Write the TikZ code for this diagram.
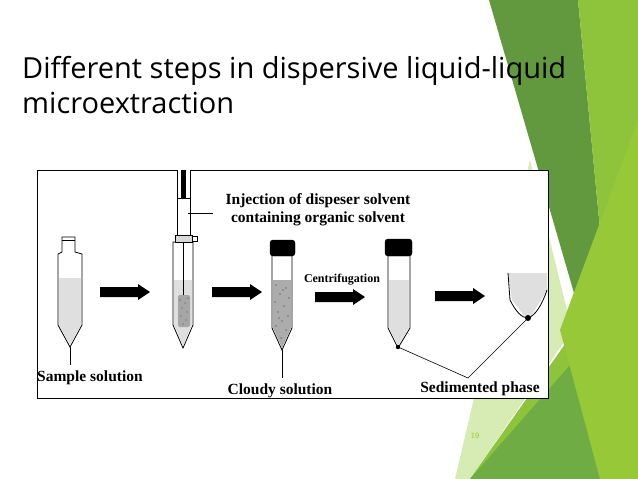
\documentclass[tikz,border=0pt]{standalone}
\usepackage{fontspec}
\setmainfont{Liberation Serif}
\newfontfamily\titlefont{Open Sans}
\definecolor{gdark}{RGB}{98,152,62}
\definecolor{glight}{RGB}{142,196,60}
\definecolor{gmid}{RGB}{112,172,68}
\definecolor{gpale}{RGB}{215,235,180}
\definecolor{gbright}{RGB}{150,200,55}
\begin{document}
\begin{tikzpicture}[x=1pt,y=-1pt,
  lbl/.style={font=\bfseries\fontsize{15.5}{17}\selectfont,inner sep=0pt},
  tube/.style={draw=black,line width=0.8pt,fill=white},
  liq/.style={fill=gray!25,draw=none},
  blk/.style={fill=black,draw=black},
  barrow/.style={fill=black,draw=none}]
\useasboundingbox (0,0) rectangle (638,479);
\fill[white] (0,0) rectangle (638,479);
% background decoration
\fill[gpale] (530,160) -- (572,330) -- (470,479) -- (455,479) -- cycle;
\fill[gdark] (489,0) -- (578,0) -- (602,250) -- (592,355) -- cycle;
\fill[glight] (578,0) -- (638,0) -- (638,479) -- (470,479) -- (575,330) -- (602,250) -- cycle;
\fill[gmid] (470,479) -- (592,340) -- (615,479) -- cycle;
\fill[gbright] (560,330) -- (638,120) -- (638,479) -- (600,479) -- cycle;
\node[anchor=base west,font=\titlefont\fontsize{29}{32}\selectfont,inner sep=0pt] (t1) at (22,78) {Different steps in dispersive liquid-liquid};
\node[anchor=base west,font=\titlefont\fontsize{29}{32}\selectfont,inner sep=0pt] (t2) at (22,113) {microextraction};
\node[font=\sffamily\fontsize{8}{9}\selectfont,text=gbright,inner sep=0pt] (pg) at (475,436) {19};
% image frame
\draw[fill=white,line width=0.8pt] (37,170) rectangle (548,398);
% tube 1
\draw[tube] (62,237) -- (75,237) -- (75,252) -- (82,254) -- (82,325) -- (70,347) -- (58,325) -- (58,254) -- (62,252) -- cycle;
\fill[liq] (59,278) -- (81,278) -- (81,325) -- (70,345) -- (59,325) -- cycle;
\draw[line width=0.6pt] (62,240) -- (75,240);
\coordinate (tip1) at (70,347);
\coordinate (l1) at (70,365);
\draw[line width=0.6pt] (tip1) -- (l1);
\node[lbl,anchor=base west] (s1) at (37,381) {Sample solution};
% arrows
\foreach \xa/\ya in {100/292,212/292,315/297,435/296}{
  \fill[barrow] (\xa,\ya-5) -- (\xa+38,\ya-5) -- (\xa+38,\ya-8) -- (\xa+50,\ya) -- (\xa+38,\ya+8) -- (\xa+38,\ya+5) -- (\xa,\ya+5) -- cycle;}
% tube 2 with syringe
\draw[tube] (173,242) -- (193,242) -- (193,325) -- (183,348) -- (173,325) -- cycle;
\fill[liq] (174,280) -- (192,280) -- (192,325) -- (183,346) -- (174,325) -- cycle;
\draw[tube] (177,170) -- (177,236) -- (190,236) -- (190,170);
\fill[black] (181,170) rectangle (186,198);
\draw[line width=0.6pt] (177,198) -- (190,198);
\draw[tube,fill=gray!30] (175,235) rectangle (192,242);
\draw[tube] (192,236) rectangle (197,241);
\draw[line width=0.8pt] (183,242) -- (183,295);
\fill[gray!70,rounded corners=2pt] (178,295) rectangle (190,327);
\foreach \p in {(180,300),(185,303),(182,308),(187,312),(181,316),(186,320),(183,324),(188,298)} \fill[black!70] \p circle (0.6);
\coordinate (syr) at (188,213);
\coordinate (l2) at (213,213);
\draw[line width=0.4pt] (syr) -- (l2);
\node[lbl,anchor=base] (inj1) at (318,204) {Injection of dispeser solvent};
\node[lbl,anchor=base] (inj2) at (318,222) {containing organic solvent};
% tube 3
\draw[tube] (272,255) -- (292,255) -- (292,328) -- (282,350) -- (272,328) -- cycle;
\fill[gray!65] (273,280) -- (291,280) -- (291,328) -- (282,348) -- (273,328) -- cycle;
\foreach \p in {(276,285),(286,288),(280,294),(289,298),(275,302),(284,306),(278,312),(288,316),(282,321),(276,326),(286,330),(281,338),(283,290),(279,318)} \fill[black!80] \p circle (0.6);
\fill[blk,rounded corners=3pt] (270,240) rectangle (295,256);
\coordinate (tip3) at (282,350);
\coordinate (l3) at (282,378);
\draw[line width=0.6pt] (tip3) -- (l3);
\node[lbl,anchor=base] (cl) at (280,394) {Cloudy solution};
\node[lbl,font=\bfseries\fontsize{12}{13}\selectfont,anchor=base] (cen) at (342,282) {Centrifugation};
% tube 4
\draw[tube] (388,255) -- (410,255) -- (410,328) -- (398,348) -- (388,328) -- cycle;
\fill[liq] (389,280) -- (409,280) -- (409,328) -- (398,346) -- (389,328) -- cycle;
\fill[blk,rounded corners=3pt] (385,239) rectangle (412,256);
\fill[black] (398,347) circle (2.2) node (d4) {};
% tube 5 partial
\fill[liq] (508,273) -- (547,273) -- (547,290) -- (530,318) -- (526,318) -- (512,300) -- cycle;
\draw[line width=0.8pt] (508,273) -- (510,300) .. controls (516,312) and (522,318) .. (528,318) .. controls (535,316) and (542,305) .. (547,290);
\fill[black] (528,318) circle (3) node (d5) {};
\coordinate (vee) at (468,378);
\draw[line width=0.6pt] (d4.center) -- (vee) -- (d5.center);
\node[lbl,anchor=base] (sed) at (480,392) {Sedimented phase};
\end{tikzpicture}
\end{document}
